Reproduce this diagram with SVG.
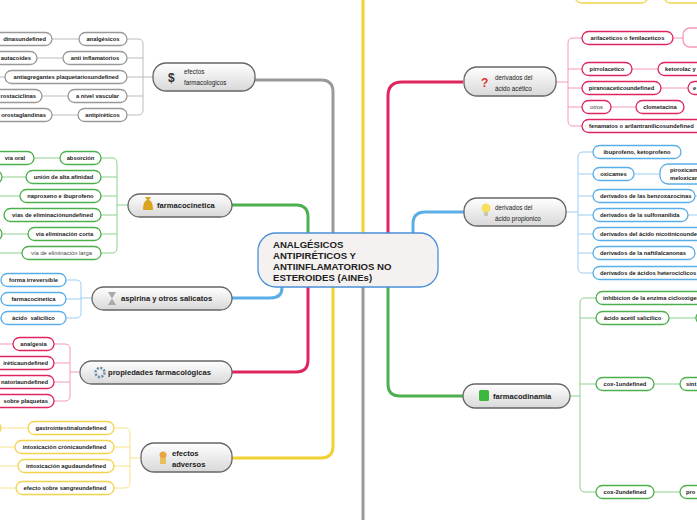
<svg xmlns="http://www.w3.org/2000/svg" width="697" height="520" viewBox="0 0 697 520">
<defs>
<linearGradient id="mg" x1="0" y1="0" x2="0" y2="1"><stop offset="0" stop-color="#ffffff"/><stop offset="1" stop-color="#d8d8d8"/></linearGradient>
<style>
text{font-family:"Liberation Sans",Arial,sans-serif;fill:#222}
.c{font-size:5.8px;font-weight:bold;text-anchor:middle;white-space:pre}
.n{font-weight:normal;fill:#444}
.e{font-size:5.8px;font-weight:bold;text-anchor:end}
.s{font-size:5.8px;font-weight:bold}
.m{font-size:7.6px;font-weight:bold}
.m2{font-size:6.3px}
.main{fill:url(#mg);stroke:#666;stroke-width:1.3}
.ch rect{fill:#fff;stroke-width:1.3}
.gr rect{stroke:#999}.gn rect{stroke:#4cae4c}.bl rect{stroke:#5aaee8}.pk rect{stroke:#e0245e}.yl rect{stroke:#f3d34a}
.br{fill:none;stroke-width:1}
.bgr{stroke:#bbb}.bgn{stroke:#8fd18f}.bbl{stroke:#9ccdf2}.bpk{stroke:#f29ab8}.byl{stroke:#f7e38c}
.big{fill:none;stroke-width:3}
</style>
</defs>

<g id="connectors">
<path class="big" stroke="#f3d130" d="M363,0 V233"/>
<path class="big" stroke="#9a9a9a" d="M255,80 H321 Q333,80 333,92 V233"/>
<path class="big" stroke="#4caf50" d="M232,205 H296 Q308,205 308,217 V233"/>
<path class="big" stroke="#e0245e" d="M463,82 H402 Q388,82 388,96 V233"/>
<path class="big" stroke="#5aaee8" d="M413,233 V224 Q413,212 425,212 H464"/>
<path class="big" stroke="#5aaee8" d="M282,287 V288 Q282,298 270,298 H232"/>
<path class="big" stroke="#e0245e" d="M308,287 V360 Q308,372 296,372 H232"/>
<path class="big" stroke="#f3d130" d="M333,287 V446 Q333,458 321,458 H232"/>
<path class="big" stroke="#9a9a9a" d="M363,287 V520"/>
<path class="big" stroke="#4caf50" d="M388,287 V384 Q388,396 400,396 H463"/>

<path class="br bgr" d="M153,77 H143 M127,39 H138 Q143,39 143,44 V110 Q143,115 138,115 H127 M127,58 H143 M127,77 H143 M127,96 H143 M52,39 H79 M37,58 H63 M0,77 H5 M42,96 H68 M52,115 H78"/>
<path class="br bgn" d="M128,205 H117 M101,158 H112 Q117,158 117,163 V248 Q117,253 112,253 H101 M101,177 H117 M101,196 H117 M101,215 H117 M101,234 H117 M34,158 H60 M2,177 H26 M0,196 H20 M2,234 H28 M0,253 H22"/>
<path class="br bbl" d="M92,298 H81 M66,280 H76 Q81,280 81,285 V313 Q81,318 76,318 H66 M66,299 H81 M0,299 H1 M0,318 H1"/>
<path class="br bpk" d="M80,372 H70 M54,344 H65 Q70,344 70,349 V396 Q70,401 65,401 H54 M54,363 H70 M54,382 H70 M0,344 H13"/>
<path class="br byl" d="M141,458 H130 M114,428 H125 Q130,428 130,433 V483 Q130,488 125,488 H114 M114,447 H130 M114,466 H130 M1,428 H28 M0,447 H15 M0,466 H18 M0,488 H16"/>
<path class="br bpk" d="M556,82 H568 M582,38 H573 Q568,38 568,43 V121 Q568,126 573,126 H582 M568,69 H582 M568,88 H582 M568,107 H582 M673,38 H683 M632,69 H658 M661,88 H688 M611,107 H636"/>
<path class="br bbl" d="M566,212 H578 M593,152 H583 Q578,152 578,157 V268 Q578,273 583,273 H593 M578,174 H593 M578,196 H593 M578,215 H593 M578,234 H593 M578,253 H593 M634,174 H660 M695,196 H697 M688,215 H697"/>
<path class="br bgn" d="M570,396 H580 M596,298 H585 Q580,298 580,303 V487 Q580,492 585,492 H596 M580,318 H596 M580,384 H596 M669,318 H696 M654,384 H680 M654,492 H680"/>
</g>

<g id="center">
<rect x="258" y="233" width="180" height="54" rx="18" fill="#f4f1f0" stroke="#4a90d9" stroke-width="1.3"/>
<text style="font-size:9.6px;font-weight:bold"><tspan x="273" y="248">ANALGÉSICOS</tspan><tspan x="273" y="259">ANTIPIRÉTICOS Y</tspan><tspan x="273" y="270">ANTIINFLAMATORIOS NO</tspan><tspan x="273" y="281">ESTEROIDES (AINEs)</tspan></text>
</g>

<g id="efectos-farmacologicos">
<rect class="main" x="153" y="63" width="102" height="28" rx="13"/>
<text x="168" y="82" style="font-size:12px;font-weight:bold;fill:#333">$</text>
<text class="m2"><tspan x="184" y="74">efectos</tspan><tspan x="184" y="85">farmacologicos</tspan></text>
<g class="ch gr">
<rect x="79" y="32.5" width="48" height="13" rx="6.5"/><text class="c" x="103" y="41">analgésicos</text>
<rect x="63" y="51.5" width="64" height="13" rx="6.5"/><text class="c" x="95" y="60">anti inflamatorios</text>
<rect x="5" y="70.5" width="122" height="13" rx="6.5"/><text class="c" x="66" y="79">antiagregantes plaquetariosundefined</text>
<rect x="68" y="89.5" width="59" height="13" rx="6.5"/><text class="c" x="97.5" y="98">a nivel vascular</text>
<rect x="78" y="108.5" width="49" height="13" rx="6.5"/><text class="c" x="102.5" y="117">antipiréticos</text>
<rect x="-60" y="32.5" width="112" height="13" rx="6.5"/><text class="e" x="46" y="41">dinasundefined</text>
<rect x="-40" y="51.5" width="77" height="13" rx="6.5"/><text class="e" x="31" y="60">autacoides</text>
<rect x="-40" y="89.5" width="82" height="13" rx="6.5"/><text class="e" x="36" y="98">rostaciclinas</text>
<rect x="-40" y="108.5" width="92" height="13" rx="6.5"/><text class="e" x="46" y="117">orostaglandinas</text>
</g>
</g>

<g id="farmacocinetica">
<rect class="main" x="128" y="194" width="104" height="23" rx="11.5"/>
<path d="M143,210 Q143,201 147,200 L145,197 H151 L149,200 Q153,201 153,210 Z" fill="#d9a520"/>
<text class="m" x="157" y="208">farmacocinetica</text>
<g class="ch gn">
<rect x="60" y="151.5" width="41" height="13" rx="6.5"/><text class="c" x="80.5" y="160">absorción</text>
<rect x="26" y="170.5" width="75" height="13" rx="6.5"/><text class="c" x="63.5" y="179">unión de alta afinidad</text>
<rect x="20" y="189.5" width="81" height="13" rx="6.5"/><text class="c" x="60.5" y="198">naproxeno e ibuprofeno</text>
<rect x="4" y="208.5" width="97" height="13" rx="6.5"/><text class="c" x="52.5" y="217">vias de eliminaciónundefined</text>
<rect x="28" y="227.5" width="73" height="13" rx="6.5"/><text class="c" x="64.5" y="236">via eliminación corta</text>
<rect x="22" y="246.5" width="79" height="13" rx="6.5"/><text class="c n" x="61.5" y="255">vía de eliminación larga</text>
<rect x="-10" y="151.5" width="44" height="13" rx="6.5"/><text class="c" x="15" y="160">vía oral</text>
<rect x="-20" y="170.5" width="22" height="13" rx="6.5"/>
<rect x="-20" y="227.5" width="22" height="13" rx="6.5"/>
</g>
</g>

<g id="aspirina">
<rect class="main" x="92" y="287" width="140" height="23" rx="11.5"/>
<path d="M108,292 H116 L112,298.5 L116,305 H108 L112,298.5 Z" fill="#b0a8a0"/>
<text class="m" x="121" y="301">aspirina y otros salicatos</text>
<g class="ch bl">
<rect x="1" y="273.5" width="65" height="13" rx="6.5"/><text class="c" x="33.5" y="282">forma irreversible</text>
<rect x="1" y="292.5" width="65" height="13" rx="6.5"/><text class="c" x="33.5" y="301">farmacocinetica</text>
<rect x="1" y="311.5" width="65" height="13" rx="6.5"/><text class="c" x="33.5" y="320">ácido  salicílico</text>
</g>
</g>

<g id="propiedades">
<rect class="main" x="80" y="361" width="152" height="23" rx="11.5"/>
<circle cx="100" cy="372.5" r="4.5" fill="none" stroke="#6a8aa0" stroke-width="2.5" stroke-dasharray="2 1.5"/>
<text class="m" x="108" y="375">propiedades farmacológicas</text>
<g class="ch pk">
<rect x="13" y="337.5" width="41" height="13" rx="6.5"/><text class="c" x="33.5" y="346">analgesia</text>
<rect x="-30" y="356.5" width="84" height="13" rx="6.5"/><text class="e" x="48" y="365">iréticaundefined</text>
<rect x="-30" y="375.5" width="84" height="13" rx="6.5"/><text class="e" x="48" y="384">natoriaundefined</text>
<rect x="-30" y="394.5" width="84" height="13" rx="6.5"/><text class="e" x="48" y="403">sobre plaquetas</text>
</g>
</g>

<g id="efectos-adversos">
<rect class="main" x="141" y="443" width="91" height="29" rx="13"/>
<circle cx="163" cy="455" r="3.5" fill="#e8a640"/><rect x="160" y="458" width="6" height="6" fill="#e8c060"/>
<text class="m"><tspan x="172" y="456">efectos</tspan><tspan x="172" y="467">adversos</tspan></text>
<g class="ch yl">
<rect x="28" y="421.5" width="86" height="13" rx="6.5"/><text class="c" x="71" y="430">gastrointestinalundefined</text>
<rect x="15" y="440.5" width="99" height="13" rx="6.5"/><text class="c" x="64.5" y="449">intoxicación crónicaundefined</text>
<rect x="18" y="459.5" width="96" height="13" rx="6.5"/><text class="c" x="66" y="468">intoxicación agudaundefined</text>
<rect x="16" y="481.5" width="98" height="13" rx="6.5"/><text class="c" x="65" y="490">efecto sobre sangreundefined</text>
<rect x="-20" y="421.5" width="21" height="13" rx="6.5"/>
</g>
</g>

<g id="top-yellow" class="ch yl">
<rect x="575" y="-10" width="73" height="13" rx="6.5"/>
<rect x="664" y="-10" width="60" height="13" rx="6.5"/>
</g>

<g id="derivados-acetico">
<rect class="main" x="464" y="67" width="92" height="29" rx="13"/>
<text x="481" y="87" style="font-size:12px;font-weight:bold;fill:#e03030">?</text>
<text class="m2"><tspan x="495" y="80">derivados del</tspan><tspan x="495" y="91">ácido acético</tspan></text>
<g class="ch pk">
<rect x="582" y="31.5" width="91" height="13" rx="6.5"/><text class="c" x="627.5" y="40">arilaceticos o fenilaceticos</text>
<rect x="683" y="28" width="40" height="19" rx="7" style="stroke:#f29ab8"/>
<rect x="582" y="62.5" width="50" height="13" rx="6.5"/><text class="c" x="607" y="71">pirrolacetico</text>
<rect x="658" y="62.5" width="60" height="13" rx="6.5"/><text class="s" x="665" y="71">ketorolac y</text>
<rect x="582" y="81.5" width="79" height="13" rx="6.5"/><text class="c" x="621.5" y="90">piranoaceticoundefined</text>
<rect x="688" y="81.5" width="30" height="13" rx="6.5"/><text class="s" x="693" y="90">e</text>
<rect x="582" y="100.5" width="29" height="13" rx="6.5"/><text class="c n" x="596.5" y="109">otros</text>
<rect x="636" y="100.5" width="48" height="13" rx="6.5"/><text class="c" x="660" y="109">clometacina</text>
<rect x="582" y="119.5" width="130" height="13" rx="6.5"/><text class="s" x="589" y="128">fenamatos o arilantranilicosundefined</text>
</g>
</g>

<g id="derivados-propionico">
<rect class="main" x="464" y="198" width="102" height="28" rx="13"/>
<circle cx="486" cy="208" r="4.5" fill="#f7e060"/><rect x="484" y="212" width="4" height="4" fill="#c8c8b0"/>
<text class="m2"><tspan x="495" y="210">derivados del</tspan><tspan x="495" y="221">ácido propionico</tspan></text>
<g class="ch bl">
<rect x="593" y="145.5" width="88" height="13" rx="6.5"/><text class="c" x="637" y="154">ibuprofeno, ketoprofeno</text>
<rect x="593" y="167.5" width="41" height="13" rx="6.5"/><text class="c" x="613.5" y="176">oxicames</text>
<rect x="660" y="164" width="60" height="20" rx="8"/><text class="s"><tspan x="670" y="172">piroxicam,</tspan><tspan x="670" y="180">meloxicam</tspan></text>
<rect x="593" y="189.5" width="102" height="13" rx="6.5"/><text class="s" x="600" y="198">derivados de las benzoxazocinas</text>
<rect x="593" y="208.5" width="95" height="13" rx="6.5"/><text class="s" x="600" y="217">derivados de la sulfonanilida</text>
<rect x="593" y="227.5" width="120" height="13" rx="6.5"/><text class="s" x="600" y="236">derivados del ácido nicotinicoundefined</text>
<rect x="593" y="246.5" width="102" height="13" rx="6.5"/><text class="s" x="600" y="255">derivados de la naftilalcanonas</text>
<rect x="593" y="266.5" width="120" height="13" rx="6.5"/><text class="s" x="600" y="275">derivados de ácidos heterocíclicos</text>
</g>
</g>

<g id="farmacodinamia">
<rect class="main" x="463" y="384" width="107" height="24" rx="12"/>
<rect x="479" y="390" width="10" height="11" rx="1.5" fill="#3cb83c"/>
<text class="m" x="493" y="399">farmacodinamia</text>
<g class="ch gn">
<rect x="596" y="291.5" width="120" height="13" rx="6.5"/><text class="s" x="603" y="300">inhibicion de la enzima ciclooxigenasa</text>
<rect x="596" y="311.5" width="73" height="13" rx="6.5"/><text class="c" x="632.5" y="320">ácido acetil salicílico</text>
<rect x="696" y="311.5" width="20" height="13" rx="6.5"/>
<rect x="596" y="377.5" width="58" height="13" rx="6.5"/><text class="c" x="625" y="386">cox-1undefined</text>
<rect x="680" y="377.5" width="40" height="13" rx="6.5"/><text class="s" x="686" y="386">sint</text>
<rect x="596" y="485.5" width="58" height="13" rx="6.5"/><text class="c" x="625" y="494">cox-2undefined</text>
<rect x="680" y="485.5" width="40" height="13" rx="6.5"/><text class="s" x="686" y="494">pro</text>
</g>
</g>
</svg>
